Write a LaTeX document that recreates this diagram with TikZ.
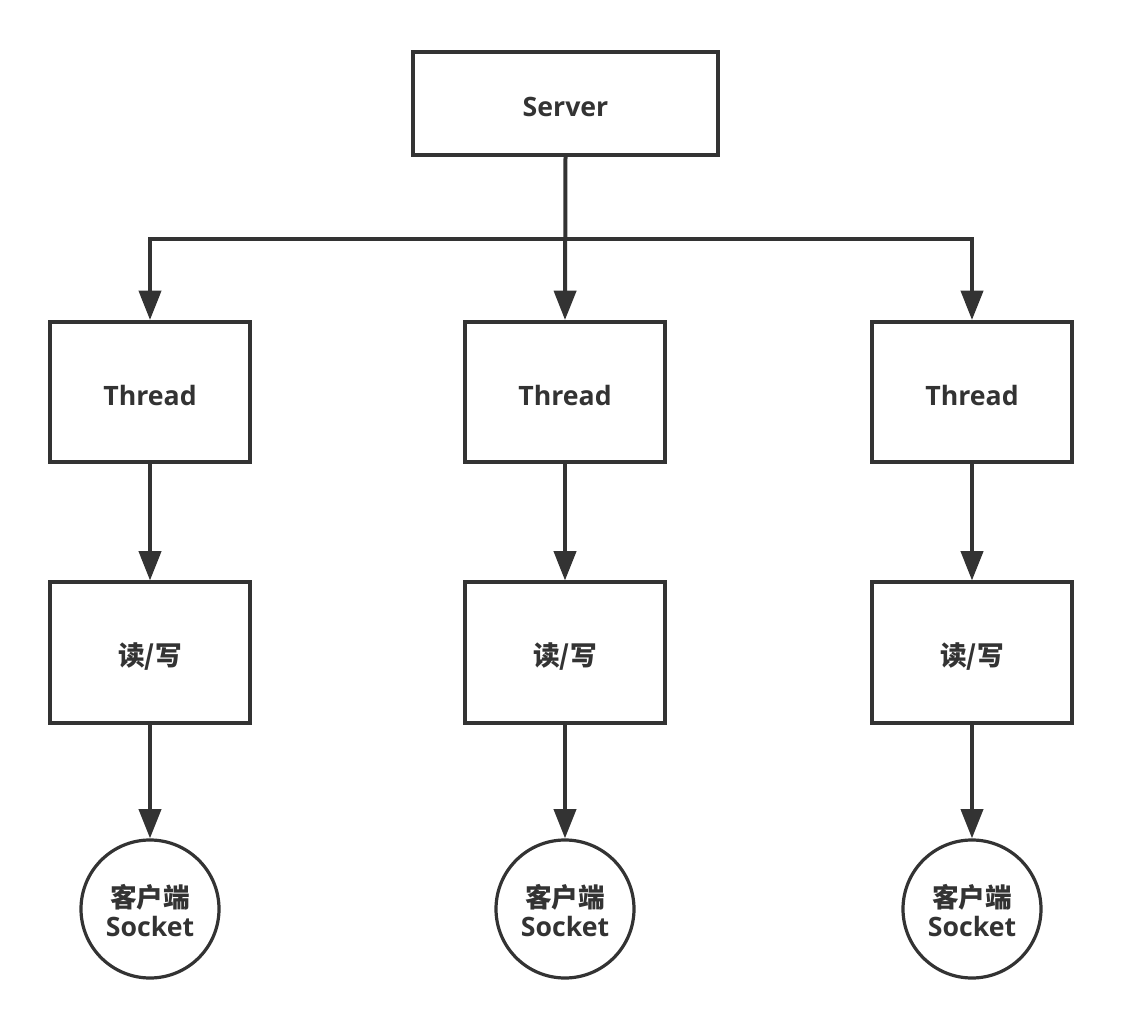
\documentclass[tikz,border=0pt]{standalone}
\usepackage{fontspec}
\setmainfont{Open Sans}
\newfontfamily\cjk{Noto Sans CJK SC Bold}
\usetikzlibrary{arrows.meta}
\definecolor{ink}{HTML}{333333}
\newcommand{\socktext}{\raisebox{-4.5pt}[\height][\depth]{\begin{tabular}{@{}c@{}}{\cjk 客户端}\\Socket\end{tabular}}}
\begin{document}
\begin{tikzpicture}[x=0.75pt,y=0.75pt,yscale=-1,xscale=1,
  every node/.style={text=ink,font=\fontsize{20}{22}\selectfont\bfseries},
  box/.style={draw=ink,line width=3pt,minimum width=150pt,minimum height=105pt,text height=20pt,text depth=0pt},
  sock/.style={draw=ink,line width=2.4pt,circle,minimum size=103.5pt,inner sep=0pt,font=\fontsize{20}{22}\selectfont\bfseries},
  link/.style={draw=ink,line width=3pt,-{Triangle[length=22pt,width=16.5pt]}}]
\useasboundingbox (0,0) rectangle (1122,1030); %set diagram size 1122 x 1030

% Server
\node[box,minimum width=228.75pt,minimum height=77.25pt] (server) at (565.5,103.5) {Server};

% Thread Nodes
\node[box] (thread1) at (150,392) {Thread};
\node[box] (thread2) at (565,392) {Thread};
\node[box] (thread3) at (972,392) {Thread};

% Read/Write Nodes
\node[box] (rw1) at (150,652.5) {{\cjk 读/写}};
\node[box] (rw2) at (565,652.5) {{\cjk 读/写}};
\node[box] (rw3) at (972,652.5) {{\cjk 读/写}};

% Socket Circles
\node[sock] (sock1) at (150,909) {\socktext};
\node[sock] (sock2) at (565,909) {\socktext};
\node[sock] (sock3) at (972,909) {\socktext};

% Straight Lines
\coordinate (split) at (565,239);
\draw[link] (server.south) -- (thread2.north);
\draw[link] (split) -| (thread1.north);
\draw[link] (split) -| (thread3.north);

\draw[link] (thread1) -- (rw1);
\draw[link] (thread2) -- (rw2);
\draw[link] (thread3) -- (rw3);

\draw[link] (rw1) -- (sock1);
\draw[link] (rw2) -- (sock2);
\draw[link] (rw3) -- (sock3);

\end{tikzpicture}
\end{document}
